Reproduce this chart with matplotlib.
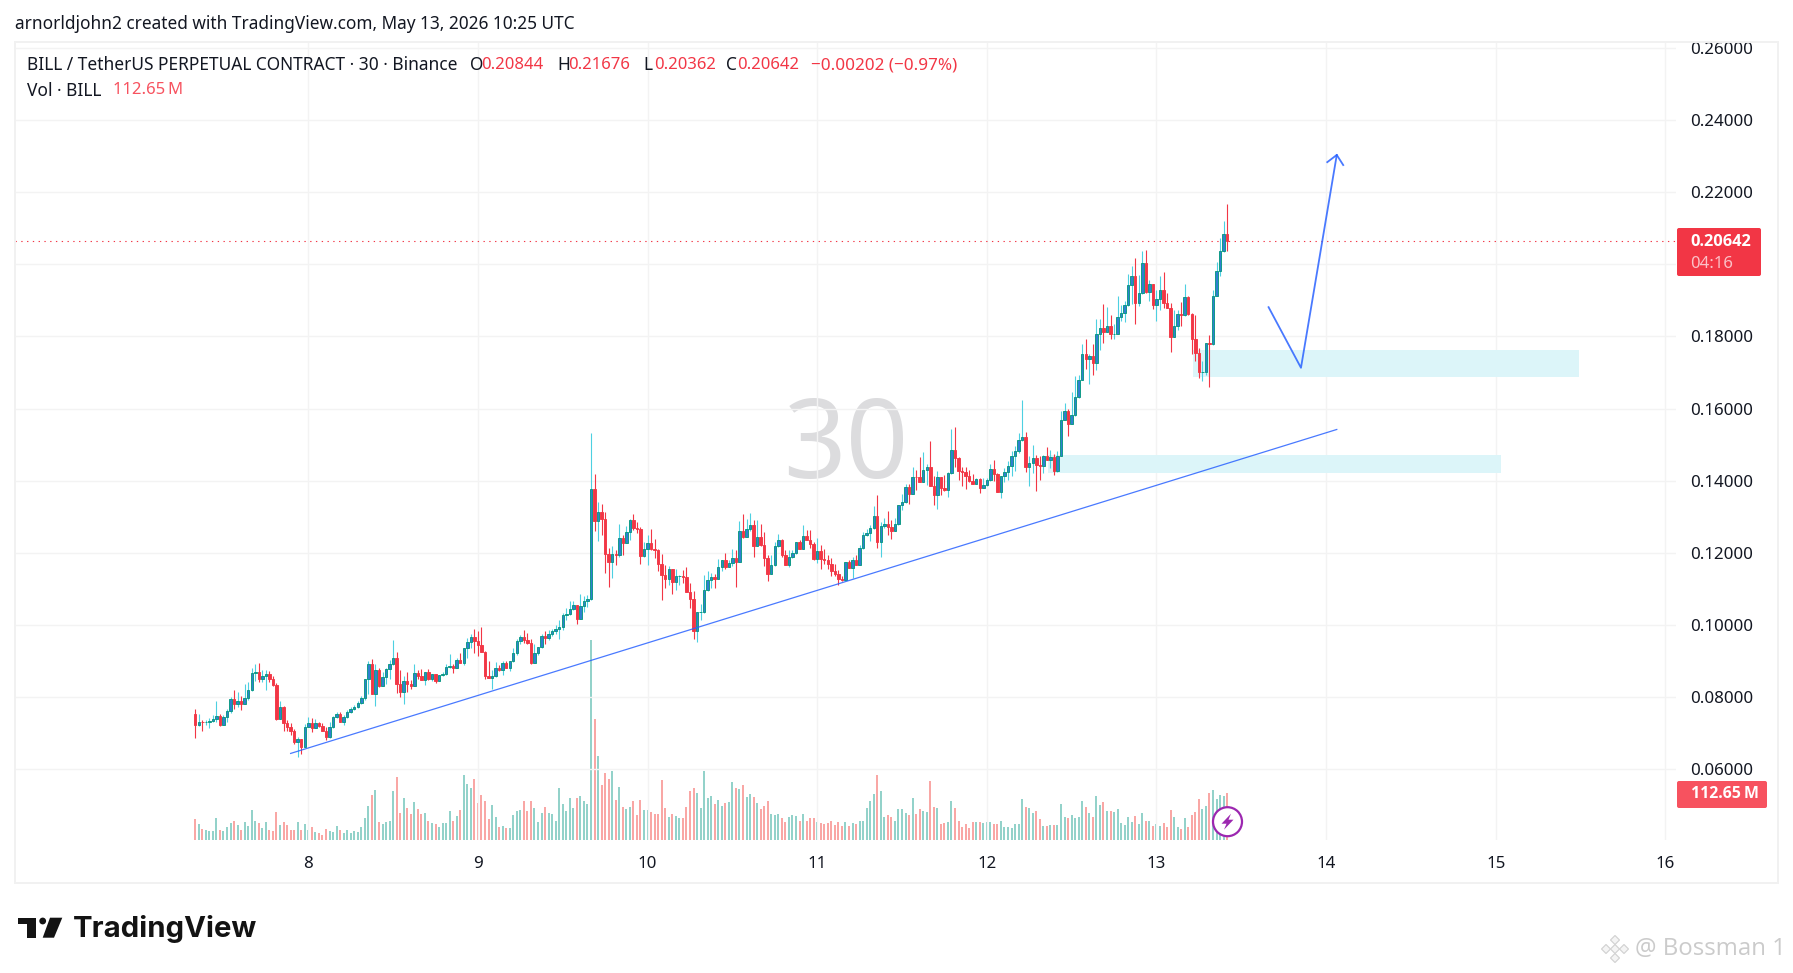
import numpy as np
import matplotlib
matplotlib.use("Agg")
import matplotlib.pyplot as plt
from matplotlib.patches import Rectangle, Polygon, Circle, FancyBboxPatch

# candle values, price x 1000 (first candle = May 7 08:00, 30 min bars)
first_day = 7 + 1 / 3
opens = [
    75.4,72.4,73.1,73.0,73.1,73.4,74.0,74.8,72.4,74.5,
    76.2,79.5,78.1,79.0,78.1,79.8,82.0,86.8,87.0,85.1,
    85.9,86.5,85.1,83.4,73.9,77.3,72.9,71.8,70.6,67.6,
    68.4,66.2,71.8,72.9,71.5,72.9,72.0,70.6,69.0,71.8,
    74.5,75.4,73.1,74.5,75.9,76.8,77.3,78.4,79.8,85.1,
    89.3,80.9,87.6,83.2,85.7,87.9,89.3,90.9,83.7,81.5,
    84.5,83.7,83.2,86.8,85.9,84.8,87.0,85.1,86.5,84.5,
    86.2,86.5,88.4,88.7,88.2,90.4,89.5,93.7,95.4,96.8,
    95.7,94.5,92.6,85.9,85.4,85.9,88.2,87.6,89.5,88.2,
    90.1,92.3,95.7,96.8,95.9,95.1,89.5,92.3,94.0,97.0,
    96.5,97.6,98.2,99.0,99.5,102.8,103.0,104.4,105.6,101.7,
    105.3,106.7,107.2,137.8,128.9,131.4,129.4,119.7,117.5,119.7,
    119.4,124.2,122.8,125.8,129.2,126.9,126.7,119.2,121.1,122.8,
    121.1,120.8,116.9,113.9,112.8,115.6,111.9,113.6,113.7,113.2,
    109.2,107.2,98.3,103.6,103.7,109.7,112.5,113.3,112.8,116.1,
    118.1,116.1,117.1,118.6,117.5,126.1,124.5,126.7,127.8,121.9,
    124.5,122.2,118.6,114.2,116.7,121.9,123.6,119.4,116.7,118.9,
    120.0,123.1,121.1,124.7,123.6,122.5,118.3,120.6,118.3,118.1,
    116.9,115.0,114.2,112.8,112.6,117.5,115.8,118.1,116.7,121.4,
    125.0,125.6,126.9,130.3,123.1,127.5,128.1,127.2,126.1,128.1,
    133.3,134.2,138.3,136.4,141.1,141.0,139.7,143.1,143.9,138.6,
    136.1,141.1,138.1,137.5,142.2,148.6,146.4,142.8,142.5,141.4,
    140.0,139.2,140.6,138.1,138.9,140.3,143.3,141.8,137.0,141.4,
    142.4,144.2,146.9,148.3,151.4,152.2,143.7,144.9,146.4,144.4,
    144.2,146.9,145.8,146.7,142.8,146.9,156.9,159.2,155.6,158.1,
    163.1,168.0,175.0,173.6,174.7,172.5,180.8,182.2,181.1,183.0,
    180.6,180.7,185.3,186.4,188.6,194.2,196.7,189.2,191.9,200.3,
    192.2,194.4,188.6,190.3,192.8,189.2,188.0,179.7,182.8,186.1,
    185.8,190.8,186.1,179.4,175.3,170.0,170.2,178.1,177.8,191.1,
    198.1,203.6,208.44,
]
closes = [
    72.4,73.1,73.0,73.1,73.4,74.0,74.8,72.4,74.5,76.2,
    79.5,78.1,79.0,78.1,79.8,82.0,86.8,87.0,85.1,85.9,
    86.5,85.1,83.4,73.9,77.3,72.9,71.8,70.6,67.6,68.4,
    66.2,71.8,72.9,71.5,72.9,72.0,70.6,69.0,71.8,74.5,
    75.4,73.1,74.5,75.9,76.8,77.3,78.4,79.8,85.1,89.3,
    80.9,87.6,83.2,85.7,87.9,89.3,90.9,83.7,81.5,84.5,
    83.7,83.2,86.8,85.9,84.8,87.0,85.1,86.5,84.5,86.2,
    86.5,88.4,88.7,88.2,90.4,89.5,93.7,95.4,96.8,95.7,
    94.5,92.6,85.9,85.4,85.9,88.2,87.6,89.5,88.2,90.1,
    92.3,95.7,96.8,95.9,95.1,89.5,92.3,94.0,97.0,96.5,
    97.6,98.2,99.0,99.5,102.8,103.0,104.4,105.6,101.7,105.3,
    106.7,107.2,137.8,128.9,131.4,129.4,119.7,117.5,119.7,119.4,
    124.2,122.8,125.8,129.2,126.9,126.7,119.2,121.1,122.8,121.1,
    120.8,116.9,113.9,112.8,115.6,111.9,113.6,113.7,113.2,109.2,
    107.2,98.3,103.6,103.7,109.7,112.5,113.3,112.8,116.1,118.1,
    116.1,117.1,118.6,117.5,126.1,124.5,126.7,127.8,121.9,124.5,
    122.2,118.6,114.2,116.7,121.9,123.6,119.4,116.7,118.9,120.0,
    123.1,121.1,124.7,123.6,122.5,118.3,120.6,118.3,118.1,116.9,
    115.0,114.2,112.8,112.6,117.5,115.8,118.1,116.7,121.4,125.0,
    125.6,126.9,130.3,123.1,127.5,128.1,127.2,126.1,128.1,133.3,
    134.2,138.3,136.4,141.1,141.0,139.7,143.1,143.9,138.6,136.1,
    141.1,138.1,137.5,142.2,148.6,146.4,142.8,142.5,141.4,140.0,
    139.2,140.6,138.1,138.9,140.3,143.3,141.8,137.0,141.4,142.4,
    144.2,146.9,148.3,151.4,152.2,143.7,144.9,146.4,144.4,144.2,
    146.9,145.8,146.7,142.8,146.9,156.9,159.2,155.6,158.1,163.1,
    168.0,175.0,173.6,174.7,172.5,180.8,182.2,181.1,183.0,180.6,
    180.7,185.3,186.4,188.6,194.2,196.7,189.2,191.9,200.3,192.2,
    194.4,188.6,190.3,192.8,189.2,188.0,179.7,182.8,186.1,185.8,
    190.8,186.1,179.4,175.3,170.0,170.2,178.1,177.8,191.1,198.1,
    203.6,208.44,206.42,
]
highs = [
    76.8,75.4,73.7,73.7,74.2,75.1,79.0,75.4,75.1,76.7,
    80.0,82.0,81.5,80.4,83.7,84.3,88.2,89.3,89.4,87.6,
    87.6,87.3,85.9,83.9,79.0,77.6,73.7,72.9,71.3,69.0,
    68.4,72.6,74.5,74.3,74.0,73.2,72.9,71.7,73.1,74.8,
    75.8,75.9,75.1,76.5,77.3,77.9,79.0,80.4,85.1,90.1,
    90.7,89.3,88.2,87.0,88.2,90.4,95.9,92.6,87.6,85.9,
    87.0,84.8,89.3,87.6,87.9,87.0,87.9,86.5,86.5,86.2,
    87.0,89.3,92.0,89.3,90.9,92.3,93.7,96.5,97.6,99.0,
    98.4,99.5,92.9,90.1,87.6,89.8,89.0,90.1,90.1,90.1,
    93.7,96.2,97.3,98.7,97.9,96.2,94.8,94.0,97.6,98.4,
    98.7,99.0,100.1,101.5,103.3,104.7,106.7,106.7,105.6,108.6,
    108.0,108.3,153.1,141.9,134.2,133.6,131.4,121.4,121.9,120.8,
    128.1,125.0,127.5,129.4,130.8,128.6,127.2,123.1,125.0,126.7,
    123.9,121.1,119.7,116.7,116.4,115.6,115.6,113.9,115.3,116.1,
    111.7,109.4,103.6,105.8,113.9,115.0,114.4,114.2,118.3,118.1,
    120.0,118.1,121.1,120.8,128.9,130.8,129.4,131.1,129.2,129.2,
    128.1,125.8,119.4,119.4,123.1,125.3,123.9,120.8,120.8,120.8,
    123.1,123.6,127.8,126.4,126.4,123.1,124.2,122.2,121.1,119.4,
    118.6,117.0,115.3,113.6,117.5,118.1,118.9,119.4,122.2,125.8,
    126.7,127.8,133.1,136.1,128.6,129.7,131.7,129.2,129.7,133.3,
    136.4,139.2,139.2,143.9,143.0,146.7,148.0,144.7,151.1,141.4,
    142.8,141.1,141.7,142.5,154.4,155.0,146.7,143.9,143.9,143.0,
    141.9,140.8,140.8,140.8,140.8,144.7,145.6,142.0,141.4,143.5,
    145.4,148.1,149.5,153.2,162.5,153.4,146.8,150.0,147.2,146.8,
    147.2,149.4,148.4,147.5,148.1,159.2,161.6,159.9,164.5,169.0,
    169.4,178.0,179.2,175.0,177.8,184.7,184.7,188.9,188.2,185.8,
    183.3,191.1,188.6,189.7,197.2,199.4,201.7,196.9,203.6,203.9,
    195.6,194.4,193.0,196.7,197.8,191.9,189.2,187.2,187.2,189.4,
    194.4,191.1,186.4,185.8,176.7,173.3,178.1,180.3,193.0,200.6,
    207.2,211.9,216.76,
]
lows = [
    68.8,71.9,70.5,72.3,71.5,73.2,73.2,72.0,72.3,73.2,
    75.7,76.8,77.2,76.3,78.1,79.3,81.8,84.4,84.3,84.3,
    82.0,84.3,83.2,73.7,74.0,70.6,70.5,69.5,67.0,63.4,
    64.3,66.2,71.7,70.4,71.4,71.8,70.5,68.1,68.6,71.4,
    74.2,73.1,72.3,74.3,75.5,76.3,76.9,78.1,79.3,80.9,
    80.9,77.6,82.9,83.0,83.7,85.1,89.0,81.2,80.1,78.1,
    81.5,82.3,83.2,85.1,84.8,83.4,84.8,84.5,84.0,84.5,
    85.9,86.2,88.1,86.8,88.2,89.5,89.0,90.9,93.7,92.3,
    91.5,92.6,85.1,85.4,82.3,85.7,87.3,86.2,88.2,87.3,
    89.8,91.8,94.8,95.1,94.8,89.3,89.5,91.8,93.7,94.8,
    95.9,97.0,97.6,96.2,98.7,101.4,102.8,104.2,100.3,101.7,
    103.6,105.1,106.9,126.1,123.4,125.0,114.4,110.6,113.1,116.7,
    118.9,119.4,122.8,123.6,126.4,125.6,116.9,118.9,116.7,120.8,
    118.6,115.0,106.9,110.3,111.1,108.6,109.7,111.1,111.7,109.2,
    104.7,96.1,95.3,101.4,103.4,109.4,110.3,110.3,112.8,115.0,
    115.6,116.1,116.4,110.6,117.5,124.2,124.5,126.1,118.9,122.2,
    121.9,116.4,112.2,114.2,116.4,121.7,118.9,116.7,116.1,118.6,
    119.7,121.1,121.1,123.6,121.4,118.1,117.1,115.6,116.9,115.6,
    113.6,113.6,111.1,112.2,112.5,115.8,113.1,116.7,116.7,121.1,
    124.7,123.2,126.7,121.4,118.9,127.0,125.0,123.9,126.1,127.8,
    132.0,133.9,133.6,136.4,137.5,139.7,139.7,138.9,138.6,133.3,
    132.2,136.1,137.2,135.6,141.9,143.9,140.3,138.6,137.7,139.7,
    139.0,139.2,136.5,138.1,138.6,140.0,139.8,137.0,135.1,139.7,
    140.3,141.4,142.6,147.7,151.1,142.5,138.4,142.1,137.2,140.3,
    142.1,145.6,143.5,141.7,142.3,146.8,156.7,152.5,155.6,157.8,
    162.8,167.8,171.1,166.7,169.4,170.8,176.1,178.1,181.1,179.4,
    179.2,180.6,184.2,183.9,188.4,188.9,183.3,188.3,191.7,191.9,
    189.7,187.5,184.4,187.2,187.8,188.0,175.6,179.7,181.7,182.8,
    185.6,185.8,175.0,173.3,168.6,167.5,169.2,166.1,177.6,191.1,
    196.7,203.3,203.62,
]
# volume in millions
volumes = [
    50,38,26,23,21,21,52,23,21,31,
    40,47,35,23,43,33,72,47,40,28,
    43,23,21,67,35,43,35,23,23,43,
    23,38,23,31,19,16,11,26,21,19,
    33,23,16,23,16,21,19,31,52,81,
    108,120,43,38,43,47,118,151,64,101,
    76,62,91,74,62,64,47,40,38,31,
    40,40,69,45,57,72,156,134,125,147,
    89,108,93,50,84,55,31,33,28,28,
    60,69,72,93,69,93,76,43,64,79,
    64,62,45,125,86,69,101,76,101,105,
    93,86,482,291,202,132,161,147,166,96,
    127,79,74,79,93,60,96,72,72,67,
    62,62,144,76,55,62,57,52,52,79,
    118,125,113,76,166,101,105,86,96,81,
    89,91,139,125,122,132,103,110,103,89,
    74,81,93,62,60,62,52,43,55,60,
    57,45,62,47,52,52,43,40,38,40,
    45,35,43,33,43,33,40,38,45,47,
    76,93,110,156,118,55,60,55,47,74,
    74,64,60,101,62,74,69,67,142,79,
    76,38,40,43,93,76,45,31,38,28,
    43,43,43,40,43,43,38,38,45,31,
    31,28,38,38,98,79,76,64,69,50,
    33,33,35,35,35,86,55,52,60,52,
    55,93,79,64,55,105,84,91,69,69,
    67,74,40,35,55,43,57,38,64,47,
    45,33,38,33,40,31,72,55,31,26,
    52,31,60,67,98,74,81,113,120,98,
    108,105,112.65,
]

price_ticks = [0.06, 0.08, 0.10, 0.12, 0.14, 0.16, 0.18, 0.20, 0.22, 0.24, 0.26]
# 0.20000 is hidden behind the price tag in the picture
price_labels = ["0.06000", "0.08000", "0.10000", "0.12000", "0.14000", "0.16000",
                "0.18000", "", "0.22000", "0.24000", "0.26000"]
day_ticks = [8, 9, 10, 11, 12, 13, 14, 15, 16]

# drawings on the chart (day, price)
trend_days = [7.896, 14.063]
trend_prices = [0.0644, 0.1542]
arrow_days = [13.661, 13.852, 14.063]
arrow_prices = [0.1881, 0.1713, 0.2303]
head_days = [14.007, 14.063, 14.101]
head_prices = [0.2283, 0.2303, 0.2275]
zone_days = [(13.217, 15.491), (12.362, 15.033)]
zone_prices = [(0.1688, 0.1762), (0.1421, 0.1471)]

last_close = 0.20642
last_volume = "112.65\u2009M"

UP = "#089981"
UP_FILL = "#2f7fd0"
UP_WICK = "#4dd0e1"
DOWN = "#f23645"
LINE = "#2962ff"
GRID = "#f3f3f3"
ZONE = "#dcf5f9"
TEXT = "#131722"
FONT = "Noto Sans"

plt.rcParams["font.family"] = [FONT, "DejaVu Sans"]

W, H = 1793, 973
fig = plt.figure(figsize=(W / 100, H / 100), dpi=100, facecolor="white")

# pane in pixels: x 14.7..1676, y 42..840
pane = [14.7 / W, 1 - 840 / H, (1676 - 14.7) / W, (840 - 42) / H]

ax_vol = fig.add_axes(pane)
ax = fig.add_axes(pane)
ax.patch.set_visible(False)

o = np.array(opens) / 1000
c = np.array(closes) / 1000
hi = np.array(highs) / 1000
lo = np.array(lows) / 1000
v = np.array(volumes, dtype=float)
days = first_day + np.arange(len(c)) / 48
up = c >= o

# volume
ax_vol.bar(days[up], v[up], width=0.0118, color="#93d2ca", linewidth=0)
ax_vol.bar(days[~up], v[~up], width=0.0118, color="#f9a7a5", linewidth=0)
ax_vol.set_ylim(0, 1925)
ax_vol.axis("off")

# grid + zones
ax.set_axisbelow(True)
ax.grid(True, color=GRID, linewidth=1.0)
for (d0, d1), (p0, p1) in zip(zone_days, zone_prices):
    ax.add_patch(Rectangle((d0, p0), d1 - d0, p1 - p0, color=ZONE, linewidth=0, zorder=1))

# candles
ax.vlines(days[up], lo[up], hi[up], color=UP_WICK, linewidth=0.8, zorder=2)
ax.vlines(days[~up], lo[~up], hi[~up], color=DOWN, linewidth=0.8, zorder=2)
ax.bar(days[up], (c - o)[up], bottom=o[up], width=0.0145, color=UP_FILL,
       edgecolor=UP, linewidth=0.65, zorder=3)
ax.bar(days[~up], (c - o)[~up], bottom=o[~up], width=0.0145, color=DOWN,
       edgecolor=DOWN, linewidth=0.65, zorder=3)

# last price line
ax.axhline(last_close, color=DOWN, linewidth=0.8, linestyle=(0, (1.2, 4)), zorder=2)

# trend line and hand drawn arrow
ax.plot(trend_days, trend_prices, color=LINE, linewidth=0.9, alpha=0.85, zorder=4)
ax.plot(arrow_days, arrow_prices, color=LINE, linewidth=1.3, alpha=0.85, zorder=4)
ax.plot(head_days, head_prices, color=LINE, linewidth=1.3, alpha=0.85, zorder=4)

ax.set_xlim(8 - (308.3 - 14.7) / 169.63, 8 + (1676 - 308.3) / 169.63)
ax.set_ylim(0.06 - 70.7 / 3607.5, 0.06 + 727.3 / 3607.5)
ax_vol.set_xlim(ax.get_xlim())
for s in ax.spines.values():
    s.set_visible(False)

ax.set_xticks(day_ticks)
ax.set_xticklabels([str(d) for d in day_ticks])
ax.set_yticks(price_ticks)
ax.set_yticklabels(price_labels, va="center_baseline")
ax.yaxis.tick_right()
ax.tick_params(axis="both", length=0, labelsize=12.2, labelcolor=TEXT)
ax.tick_params(axis="y", pad=10)
ax.tick_params(axis="x", pad=11.5)

# overlay in pixel coords for the page furniture
ov = fig.add_axes([0, 0, 1, 1], facecolor="none")
ov.set_xlim(0, W)
ov.set_ylim(H, 0)
ov.axis("off")

# watermark sits behind the candles
ax.text(846, 449, "30", transform=ov.transData, fontsize=79, color="#dcdcde",
        family="Noto Sans", ha="center", va="center", zorder=0.5)

ov.add_patch(Rectangle((14.7, 42), 1778 - 14.7, 882.7 - 42, fill=False,
                       edgecolor="#f1f1f1", linewidth=1.4))

ov.text(15, 24, "arnorldjohn2 created with TradingView.com, May 13, 2026 10:25 UTC",
        fontsize=12.4, color=TEXT, va="center")

# legend rows
ov.text(27, 65, "BILL / TetherUS PERPETUAL CONTRACT \u00b7 30 \u00b7 Binance",
        fontsize=12.5, color=TEXT, va="center")
for letter, lx, value, vx in [("O", 470, "0.20844", 481.5), ("H", 557, "0.21676", 568),
                              ("L", 643, "0.20362", 654), ("C", 726, "0.20642", 737.5)]:
    ov.text(lx, 65, letter, fontsize=12.5, color=TEXT, va="center")
    ov.text(vx, 65, value, fontsize=12, color=DOWN, va="center")
ov.text(811, 65, "\u22120.00202 (\u22120.97%)", fontsize=12.3, color=DOWN, va="center")
ov.text(27, 90.5, "Vol \u00b7 BILL", fontsize=12.5, color=TEXT, va="center")
ov.text(113, 90.5, last_volume, fontsize=12, color="#f7525f", va="center")

# price and volume tags
ov.add_patch(FancyBboxPatch((1677, 228), 84, 48, boxstyle="round,pad=0,rounding_size=2",
                            facecolor=DOWN, edgecolor="none"))
ov.text(1690, 242, f"{last_close:.5f}", fontsize=11.8, color="white", va="center",
        family="Open Sans", weight="bold")
ov.text(1690, 264, "04:16", fontsize=12, color="#fbc1c7", va="center")
ov.add_patch(FancyBboxPatch((1677, 781), 90, 27, boxstyle="round,pad=0,rounding_size=2",
                            facecolor="#f7525f", edgecolor="none"))
ov.text(1691, 794, last_volume, fontsize=11.4, color="white", va="center",
        family=["Open Sans", "DejaVu Sans"], weight="bold")

# lightning badge
ov.add_patch(Circle((1227.5, 821.7), 14.5, facecolor="white", edgecolor="#9c27b0", linewidth=1.6))
bolt = np.array([(3.5, -8), (-6, 2), (-1, 2), (-3.5, 8), (6, -2), (1, -2)])
ov.add_patch(Polygon(bolt + [1227.5, 821.7], closed=True, color="#9c27b0", linewidth=0))

# TradingView logo
ov.add_patch(Polygon([(18.3, 917.7), (36, 917.7), (36, 937.7), (26.7, 937.7), (26.7, 924.3), (18.3, 924.3)],
                     closed=True, color="#131313", linewidth=0))
ov.add_patch(Circle((42.7, 921), 3.4, color="#131313", linewidth=0))
ov.add_patch(Polygon([(50, 917.7), (62.3, 917.7), (54, 937.7), (42.7, 937.7)],
                     closed=True, color="#131313", linewidth=0))
ov.text(73, 929, "TradingView", fontsize=21.1, color="#131313", va="center", family="Inter", weight="bold")

# repost mark bottom right
for dx, dy in [(0, -9), (-9, 0), (9, 0), (0, 9), (0, 0)]:
    cx, cy = 1615 + dx, 949 + dy
    ov.add_patch(Polygon([(cx, cy - 4.5), (cx + 4.5, cy), (cx, cy + 4.5), (cx - 4.5, cy)], closed=True,
                         facecolor="#f4f4f4", edgecolor="#d0d0d0", linewidth=0.8))
ov.text(1635, 949, "@ Bossman 1", fontsize=17.3, color="#cbcbcb", va="center", family="Open Sans")

fig.savefig("out.png", dpi=100)
